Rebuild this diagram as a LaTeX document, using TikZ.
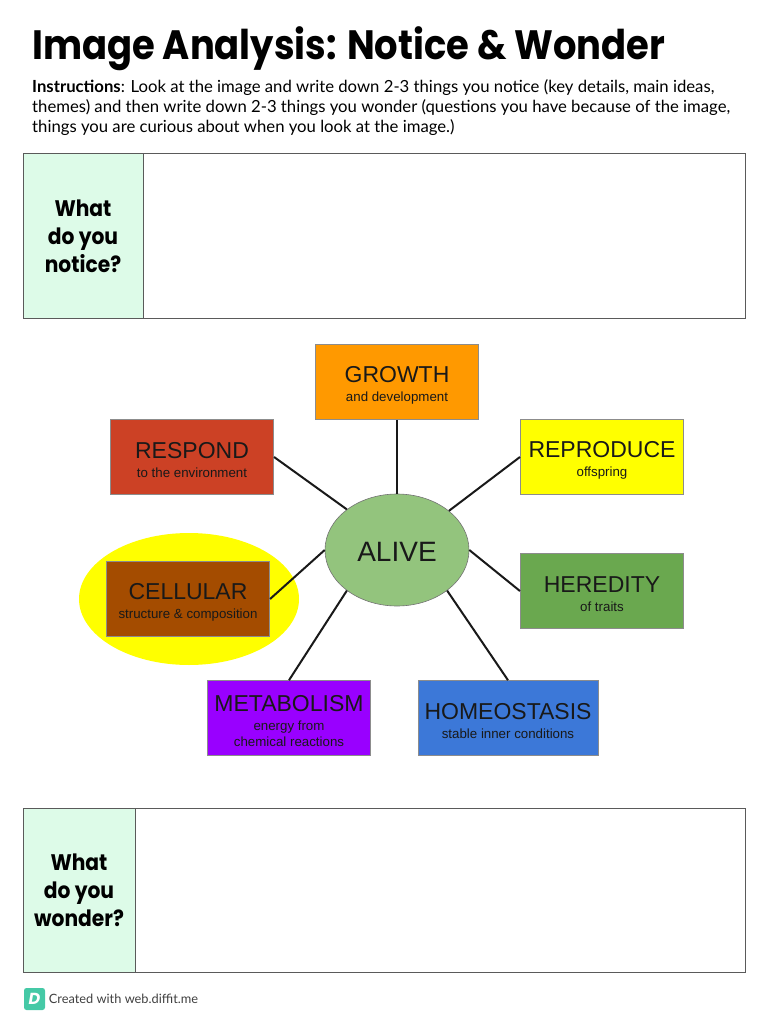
\documentclass[tikz,border=0pt]{standalone}
\usepackage{fontspec}
\setmainfont{Lato}
\newfontfamily\headfont[BoldFont=Poppins Bold,BoldFeatures={FakeStretch=0.9}]{Poppins}
\newfontfamily\boxfont{Liberation Sans}
\usetikzlibrary{shapes,positioning}
\definecolor{panelgreen}{HTML}{DDFBE8}
\definecolor{gridgray}{HTML}{5A5A5A}
\definecolor{logogreen}{HTML}{45C9A6}
\definecolor{pureyellow}{RGB}{255,255,0}
\newcommand{\bigword}[1]{{\rule{0pt}{23pt}\fontsize{23}{25}\selectfont #1}}

\tikzset{
    askcell/.style={draw=gridgray,line width=1pt,fill=panelgreen,inner sep=0pt,minimum height=164pt,
        align=center,font=\headfont\bfseries\fontsize{22.5}{28}\selectfont},
    writecell/.style={draw=gridgray,line width=1pt,inner sep=0pt,minimum height=164pt},
    topic/.style={draw=black!45,line width=0.6pt,inner sep=0pt,minimum width=163.5pt,minimum height=75pt,
        align=center,text=black!90,font=\boxfont\fontsize{13.3}{16}\selectfont},
    spoke/.style={draw=black!90,line width=2pt}
}

\begin{document}
\begin{tikzpicture}[x=1pt,y=-1pt]
    \useasboundingbox (0,0) rectangle (768,1024);

    \node[anchor=west,inner sep=0pt,font=\headfont\bfseries\fontsize{41}{43}\selectfont] (title) at (32,49) {Image Analysis: Notice \& Wonder};
    \node[anchor=north west,inner sep=0pt,align=left,font=\fontsize{16.7}{20}\selectfont] (instructions) at (32,79)
        {\textbf{Instructions}: Look at the image and write down 2-3 things you notice (key details, main ideas,\\
        themes) and then write down 2-3 things you wonder (questions you have because of the image,\\
        things you are curious about when you look at the image.)};

    \node[askcell,minimum width=120pt] (ask_1) at (83,236) {What\\do you\\notice?};
    \node[writecell,minimum width=602pt] (write_1) at (444,236) {};
    \node[askcell,minimum width=112pt] (ask_2) at (79,890) {What\\do you\\wonder?};
    \node[writecell,minimum width=610pt] (write_2) at (440,890) {};

    \node[ellipse,fill=pureyellow,minimum width=220pt,minimum height=132pt] (glow) at (189,599) {};

    \node[topic,fill={rgb,255:red,255;green,153;blue,0}] (growth) at (397,382) {\bigword{GROWTH}\\[3pt]and development};
    \node[topic,fill={rgb,255:red,204;green,65;blue,37}] (respond) at (192,457) {\bigword{RESPOND}\\[3pt]to the environment};
    \node[topic,fill=pureyellow] (reproduce) at (602,457) {\bigword{REPRODUCE}\\[3pt]offspring};
    \node[topic,fill={rgb,255:red,106;green,168;blue,79}] (heredity) at (602,591) {\bigword{HEREDITY}\\[3pt]of traits};
    \node[topic,fill={rgb,255:red,164;green,76;blue,0}] (cellular) at (188,599) {\bigword{CELLULAR}\\[3pt]structure \& composition};
    \node[topic,fill={rgb,255:red,153;green,0;blue,255}] (metabolism) at (289,718) {\bigword{METABOLISM}\\[3pt]energy from\\chemical reactions};
    \node[topic,fill={rgb,255:red,60;green,120;blue,216},minimum width=180pt] (homeostasis) at (508,718) {\bigword{HOMEOSTASIS}\\[3pt]stable inner conditions};
    \node[ellipse,draw=black!55,line width=0.6pt,fill={rgb,255:red,147;green,196;blue,125},inner sep=0pt,minimum width=144pt,minimum height=112pt,
        font=\boxfont\fontsize{28}{30}\selectfont,text=black!90] (alive) at (397,550) {\rule{0pt}{22pt}ALIVE};

    \path[spoke]
    (growth) edge (alive)
    (respond.east) edge (alive.141)
    (reproduce.west) edge (alive.37)
    (heredity.west) edge (alive.east)
    (cellular.east) edge (alive.west)
    (metabolism.north) edge (alive.219)
    (homeostasis.north) edge (alive.321);

    \node[rounded corners=2.5pt,fill=logogreen,text=white,inner sep=0pt,minimum width=21pt,minimum height=22pt,
        font=\headfont\bfseries\itshape\fontsize{16}{16}\selectfont] (logo) at (34.5,999) {D};
    \node[right=3.5pt of logo,inner sep=0pt,text=black!75,font=\fontsize{12.8}{14}\selectfont] (credit) {Created with web.diffit.me};
\end{tikzpicture}
\end{document}
